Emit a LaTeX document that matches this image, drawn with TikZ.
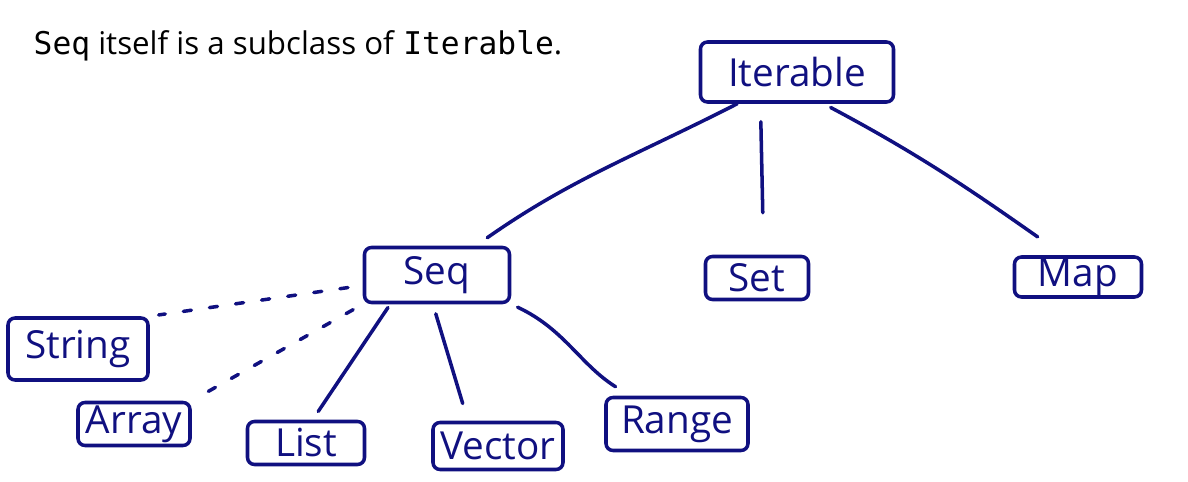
\documentclass[tikz,border=0pt]{standalone}
\usepackage{fontspec}
\setmainfont{Open Sans}
\setmonofont{DejaVu Sans Mono}
\definecolor{pen}{RGB}{16,16,128}

\begin{document}
\begin{tikzpicture}[class/.style={draw=pen,line width=1pt,rounded corners=2pt,text=pen,
font=\fontsize{11}{13}\selectfont,inner sep=0pt},
link/.style={pen,line width=1pt,line cap=round},
sub/.style={link,dash pattern=on 2.3pt off 5.2pt}]
\path[use as bounding box] (0,0) rectangle (11.88,4.82);
\node[anchor=base west,inner sep=0pt,font=\fontsize{8.9}{11}\selectfont] (note) at (0.33,4.27)
{\texttt{Seq} itself is a subclass of \texttt{Iterable}.};
\node[class,minimum width=1.93cm,minimum height=0.6cm] (it) at (7.97,4.10) {Iterable};
\node[class,minimum width=1.45cm,minimum height=0.55cm] (seq) at (4.37,2.07) {Seq};
\node[class,minimum width=1.03cm,minimum height=0.43cm] (set) at (7.57,2.04) {Set};
\node[class,minimum width=1.27cm,minimum height=0.40cm] (map) at (10.78,2.05) {Map};
\node[class,minimum width=1.40cm,minimum height=0.62cm] (str) at (0.78,1.33) {String};
\node[class,minimum width=1.12cm,minimum height=0.43cm] (arr) at (1.34,0.58) {Array};
\node[class,minimum width=1.17cm,minimum height=0.43cm] (lst) at (3.06,0.39) {List};
\node[class,minimum width=1.30cm,minimum height=0.47cm] (vec) at (4.98,0.36) {Vector};
\node[class,minimum width=1.42cm,minimum height=0.53cm] (rng) at (6.77,0.58) {Range};
% Iterable
\draw[link,shorten >=0.14cm] (it.208) to[out=207,in=35] (seq.37);
\draw[link,shorten <=0.18cm,shorten >=0.42cm] (it.221) -- (set.74);
\draw[link,shorten <=0.08cm,shorten >=0.32cm] (it.-50) to[out=-28,in=145] (map.123);
% Seq
\draw[link,shorten <=0.04cm,shorten >=0.10cm] (seq.212) -- (lst.74);
\draw[link,shorten <=0.10cm,shorten >=0.18cm] (seq.262) -- (vec.140);
\draw[link,shorten <=0.07cm,shorten >=0.17cm] (seq.south east) to[out=-25,in=148] (rng.149);
\draw[sub,shorten <=0.15cm,shorten >=0.09cm] (seq.188) -- (str.north east);
\draw[sub,shorten <=0.11cm,shorten >=0.11cm] (seq.south west) -- (arr.north east);
\end{tikzpicture}
\end{document}
